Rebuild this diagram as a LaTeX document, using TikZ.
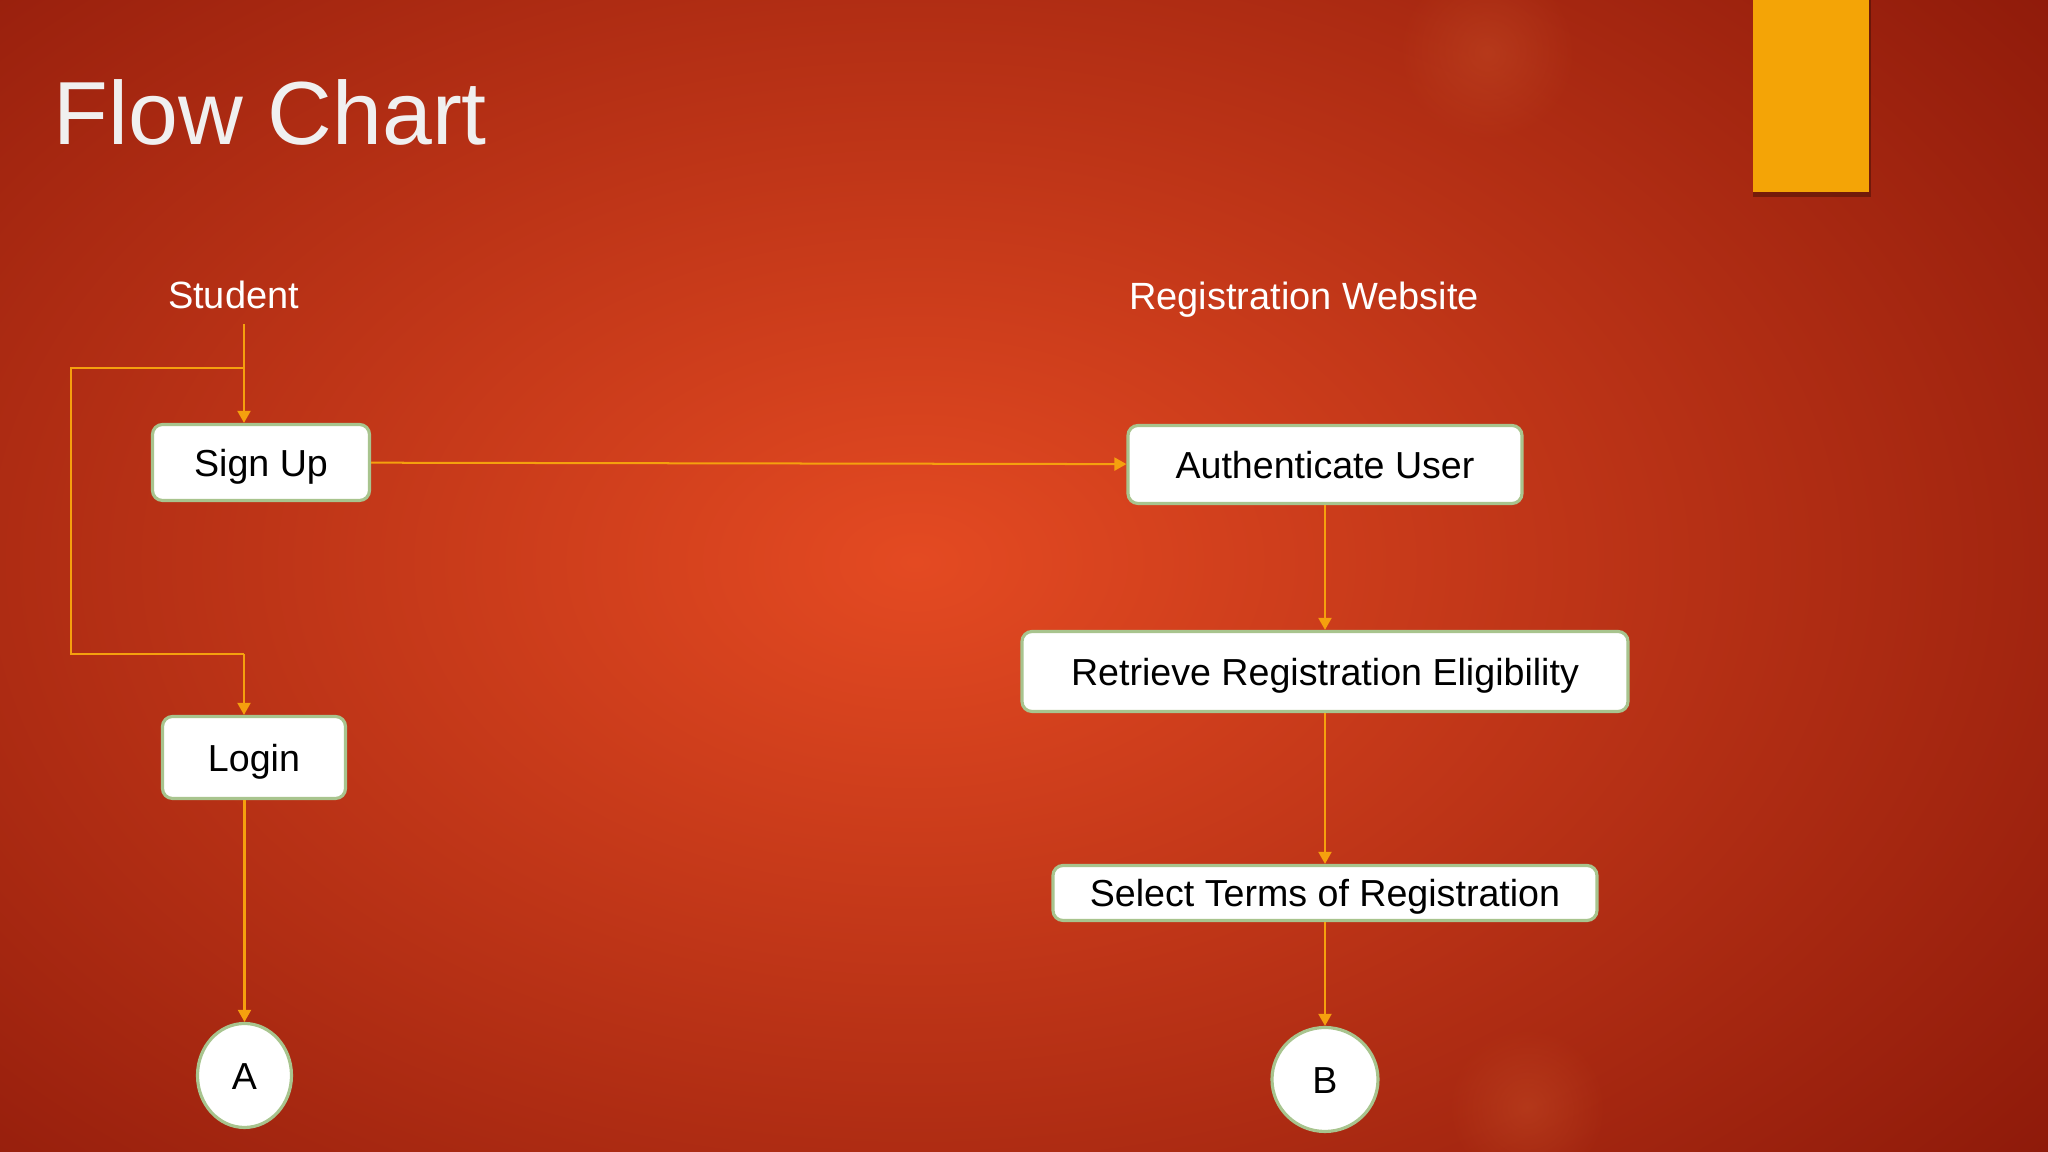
\documentclass[tikz,border=0pt]{standalone}
\usepackage{fontspec}
\setmainfont{Liberation Sans}
\usetikzlibrary{shapes.geometric, arrows.meta, fadings}

\definecolor{slidecore}{RGB}{228,74,34}
\definecolor{slideedge}{RGB}{128,18,6}
\definecolor{bokeh}{RGB}{200,80,40}
\definecolor{flowline}{RGB}{245,160,14}
\definecolor{tabgold}{RGB}{244,164,6}
\definecolor{boxrim}{RGB}{168,196,142}
\definecolor{titlegray}{RGB}{240,240,240}

\tikzfading[name=glow, inner color=transparent!60, outer color=transparent!100]

\tikzstyle{action} = [rectangle, rounded corners=1mm, draw=boxrim, line width=0.9pt, fill=white, inner sep=0pt, text height=7.7pt, text depth=0pt, text centered, font=\fontsize{10.7}{13}\selectfont]
\tikzstyle{joint} = [ellipse, draw=boxrim, line width=0.9pt, fill=white, inner sep=0pt, text height=7.7pt, text depth=0pt, font=\fontsize{10.7}{13}\selectfont]
\tikzstyle{lane} = [text=white, anchor=base, inner sep=0pt, font=\fontsize{10.8}{13}\selectfont]
\tikzstyle{arrow} = [line width=0.57pt, draw=flowline, -{Triangle[length=1.2mm, width=1.3mm]}]
\tikzstyle{line} = [line width=0.57pt, draw=flowline]

\begin{document}
\begin{tikzpicture}[node distance=2cm]
  % slide background
  \useasboundingbox (0,0) rectangle (20.48,11.52);
  \begin{scope}
    \clip (0,0) rectangle (20.48,11.52);
    \fill[slideedge] (0,0) rectangle (20.48,11.52);
    \shade[inner color=slidecore, outer color=slideedge] (9.15,5.9) ++(-17,-11) rectangle ++(34,22);
    \fill[bokeh, path fading=glow] (14.87,10.99) circle (0.9);
    \fill[bokeh, path fading=glow] (15.27,0.45) circle (0.8);
  \end{scope}
  \fill[black, opacity=0.3] (17.53,9.55) rectangle (18.71,11.52);
  \fill[tabgold] (17.53,9.60) rectangle (18.69,11.52);

  \node (title) [anchor=base west, inner sep=0pt, text=titlegray, font=\fontsize{25.5}{30}\selectfont] at (0.53,10.07) {Flow Chart};
  \node (student) [lane] at (2.335,8.43) {Student};
  \node (website) [lane] at (13.04,8.42) {Registration Website};

  \node (signup) [action, minimum width=2.17cm, minimum height=0.76cm] at (2.61,6.895) {Sign Up};
  \node (login) [action, minimum width=1.83cm, minimum height=0.82cm, below of=signup, xshift=-0.07cm, yshift=-0.95cm] {Login};
  \node (a) [joint, minimum width=0.94cm, minimum height=1.04cm, below of=login, xshift=-0.095cm, yshift=-1.18cm] {A};
  \node (auth) [action, minimum width=3.94cm, minimum height=0.78cm, right of=signup, xshift=8.64cm, yshift=-0.02cm] {Authenticate User};
  \node (elig) [action, minimum width=6.06cm, minimum height=0.80cm, below of=auth, yshift=-0.07cm] {Retrieve Registration Eligibility};
  \node (terms) [action, minimum width=5.44cm, minimum height=0.55cm, below of=elig, yshift=-0.215cm] {Select Terms of Registration};
  \node (b) [joint, minimum width=1.06cm, minimum height=1.04cm, below of=terms, yshift=0.135cm] {B};

  \coordinate (top) at (2.44,8.28);
  \coordinate (split) at (2.44,7.84);
  \coordinate (bend) at (2.44,4.98);

  \draw [arrow] (top) -- (top |- signup.north);
  \draw [line] (split) -- ++(-1.73,0) |- (bend);
  \draw [arrow] (bend) -- (bend |- login.north);
  \draw [arrow] (a.north |- login.south) -- (a);
  \draw [arrow] (signup) -- (auth);
  \draw [arrow] (auth) -- (elig);
  \draw [arrow] (elig) -- (terms);
  \draw [arrow] (terms) -- (b);
\end{tikzpicture}
\end{document}
